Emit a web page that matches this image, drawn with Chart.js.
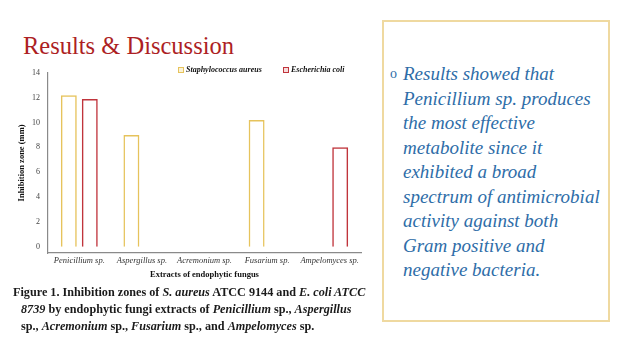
<!DOCTYPE html>
<html>
<head>
<meta charset="utf-8">
<script src="https://cdn.jsdelivr.net/npm/chart.js@4"></script>
<style>
  body { margin: 0; width: 638px; height: 359px; background: #fff; position: relative; overflow: hidden; font-family: "Liberation Serif", serif; }
  #title { position: absolute; left: 23px; top: 32px; font-size: 24.5px; color: #ad1f24; white-space: nowrap; }
  #chartBox { position: absolute; left: 0; top: 60px; width: 370px; height: 225px; }
  .legend { position: absolute; top: 65px; font-size: 8px; font-weight: bold; font-style: italic; color: #111; white-space: nowrap; }
  .legend span { display: inline-block; width: 4px; height: 4px; border: 1.5px solid; margin-right: 2px; vertical-align: -1px; }
  #caption { position: absolute; left: 13px; top: 284px; font-size: 12.2px; font-weight: bold; line-height: 17px; color: #1a1a1a; padding-left: 8px; text-indent: -8px; white-space: nowrap; }
  #notes { position: absolute; left: 382px; top: 20px; width: 228px; height: 302px; box-sizing: border-box; border: 2px solid #efd9a0; }
  #notes p { position: absolute; left: 19px; top: 40px; margin: 0; font-size: 19px; line-height: 24.5px; font-style: italic; color: #2e6da8; white-space: nowrap; }
  #notes .dot { position: absolute; left: -13px; top: 0; font-style: normal; font-size: 14px; }
</style>
</head>
<body>
<div id="title">Results &amp; Discussion</div>
<div id="chartBox"><canvas id="myChart" width="370" height="225"></canvas></div>
<div class="legend" style="left:178px"><span style="border-color:#e6c35c;background:#fbf2d6"></span>Staphylococcus aureus</div>
<div class="legend" style="left:283px"><span style="border-color:#c0343c;background:#f6dcdc"></span>Escherichia coli</div>
<div id="caption">Figure 1. Inhibition zones of <i>S. aureus</i> ATCC 9144 and <i>E. coli ATCC</i><br><i>8739</i> by endophytic fungi extracts of <i>Penicillium</i> sp., <i>Aspergillus</i><br>sp., <i>Acremonium</i> sp., <i>Fusarium</i> sp., and <i>Ampelomyces</i> sp.</div>
<div id="notes"><p><span class="dot">o</span>Results showed that<br>Penicillium sp. produces<br>the most effective<br>metabolite since it<br>exhibited a broad<br>spectrum of antimicrobial<br>activity against both<br>Gram positive and<br>negative bacteria.</p></div>

<script>
const categories = ["Penicillium sp.", "Aspergillus sp.", "Acremonium sp.", "Fusarium sp.", "Ampelomyces sp."];
const aureusZone = [12.2, 9, null, 10.2, null];
const coliZone = [11.9, null, null, null, 8];
const yTicks = [0, 2, 4, 6, 8, 10, 12, 14];

const ctx = document.getElementById("myChart").getContext("2d");

const chart = new Chart(ctx, {
  type: "bar",
  data: {
    labels: categories,
    datasets: [
      {
        label: "Staphylococcus aureus",
        data: aureusZone,
        backgroundColor: "rgba(255, 255, 255, 0)",
        borderColor: "#e6c35c",
        borderWidth: 1.5,
      },
      {
        label: "Escherichia coli",
        data: coliZone,
        backgroundColor: "rgba(255, 255, 255, 0)",
        borderColor: "#c0343c",
        borderWidth: 1.5,
      },
    ],
  },
  options: {
    responsive: false,
    animation: false,
    devicePixelRatio: 1,
    categoryPercentage: 0.67,
    barPercentage: 0.76,
    layout: { padding: { top: 12, right: 9, left: 0, bottom: 0 } },
    plugins: {
      legend: { display: false },
      tooltip: { enabled: false },
    },
    scales: {
      x: {
        grid: { display: false, drawTicks: false, tickLength: 0 },
        border: { display: true, color: "#8a8a8a", width: 1.2 },
        ticks: {
          color: "#333",
          padding: 3,
          maxRotation: 0,
          font: { family: "Liberation Serif", size: 8.5, style: "italic" },
        },
        title: {
          display: true,
          text: "Extracts of endophytic fungus",
          color: "#111",
          padding: { top: 4, bottom: 5 },
          font: { family: "Liberation Serif", size: 8.5, weight: "bold" },
        },
        afterFit: (scale) => { scale.height = 32; },
      },
      y: {
        min: -0.5,
        max: 14,
        grid: { display: false, drawTicks: false, tickLength: 0 },
        border: { display: true, color: "#8a8a8a", width: 1.2 },
        afterBuildTicks: (scale) => { scale.ticks = yTicks.map((v) => ({ value: v })); },
        ticks: {
          color: "#444",
          padding: 8,
          font: { family: "Liberation Serif", size: 8 },
        },
        title: {
          display: true,
          text: "Inhibition zone (mm)",
          color: "#111",
          padding: { top: 17, bottom: 4 },
          font: { family: "Liberation Serif", size: 8.5, weight: "bold" },
        },
        afterFit: (scale) => { scale.width = 48; },
      },
    },
  },
});
</script>
</body>
</html>
